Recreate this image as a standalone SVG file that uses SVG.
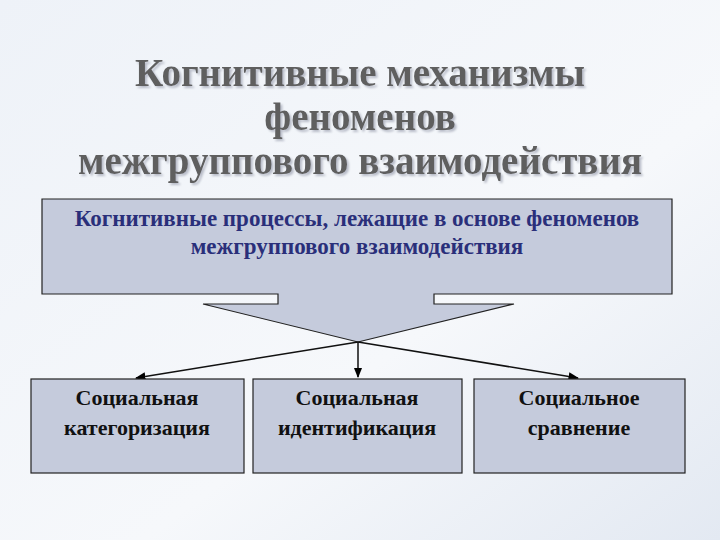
<svg xmlns="http://www.w3.org/2000/svg" width="720" height="540" viewBox="0 0 720 540">
<defs>
<linearGradient id="bg" x1="0" y1="0" x2="1" y2="1"><stop offset="0" stop-color="#eef2f8"/><stop offset="0.6" stop-color="#f6f8fb"/><stop offset="1" stop-color="#e3e9f2"/></linearGradient>
<marker id="ah" viewBox="0 0 10 10" refX="9" refY="5" markerWidth="7" markerHeight="7" orient="auto"><path d="M0,1 L10,5 L0,9 Z" fill="#000"/></marker>
<filter id="ds" x="-5%" y="-20%" width="110%" height="150%"><feDropShadow dx="2" dy="2" stdDeviation="0.8" flood-color="#b8bcc8"/></filter>
</defs>
<style>
.title{font-family:"Liberation Serif",serif;font-weight:bold;font-size:39px;fill:#5e5e5e;text-anchor:middle;filter:url(#ds)}
.box{fill:#c5cbdc;stroke:#222;stroke-width:1.2}
.t{font-family:"Liberation Serif",serif;font-weight:bold;font-size:22px;fill:#111;text-anchor:middle}
.tb{font-family:"Liberation Serif",serif;font-weight:bold;font-size:23px;fill:#2a2f7a;text-anchor:middle}
.c{stroke:#111;stroke-width:1.5;fill:none;marker-end:url(#ah)}
</style>
<rect width="720" height="540" fill="url(#bg)"/>
<g id="title">
<text class="title" x="360" y="86">Когнитивные механизмы</text>
<text class="title" x="360" y="130">феноменов</text>
<text class="title" x="360" y="174">межгруппового взаимодействия</text>
</g>
<g id="top">
<path class="box" d="M42,199 H672 V294 H434 V304 H514 L358,342 L203,304 H278 V294 H42 Z"/>
<text class="tb" x="357" y="226">Когнитивные процессы, лежащие в основе феноменов</text>
<text class="tb" x="357" y="254">межгруппового взаимодействия</text>
</g>
<g id="connectors">
<line class="c" x1="358" y1="342" x2="136" y2="378"/>
<line class="c" x1="358" y1="342" x2="358" y2="377"/>
<line class="c" x1="358" y1="342" x2="578" y2="378"/>
</g>
<g id="n1"><rect class="box" x="31" y="379" width="213" height="94"/><text class="t" x="137" y="405">Социальная</text><text class="t" x="137" y="435">категоризация</text></g>
<g id="n2"><rect class="box" x="253" y="379" width="209" height="94"/><text class="t" x="357" y="405">Социальная</text><text class="t" x="357" y="435">идентификация</text></g>
<g id="n3"><rect class="box" x="474" y="379" width="211" height="94"/><text class="t" x="579" y="405">Социальное</text><text class="t" x="579" y="435">сравнение</text></g>
</svg>
